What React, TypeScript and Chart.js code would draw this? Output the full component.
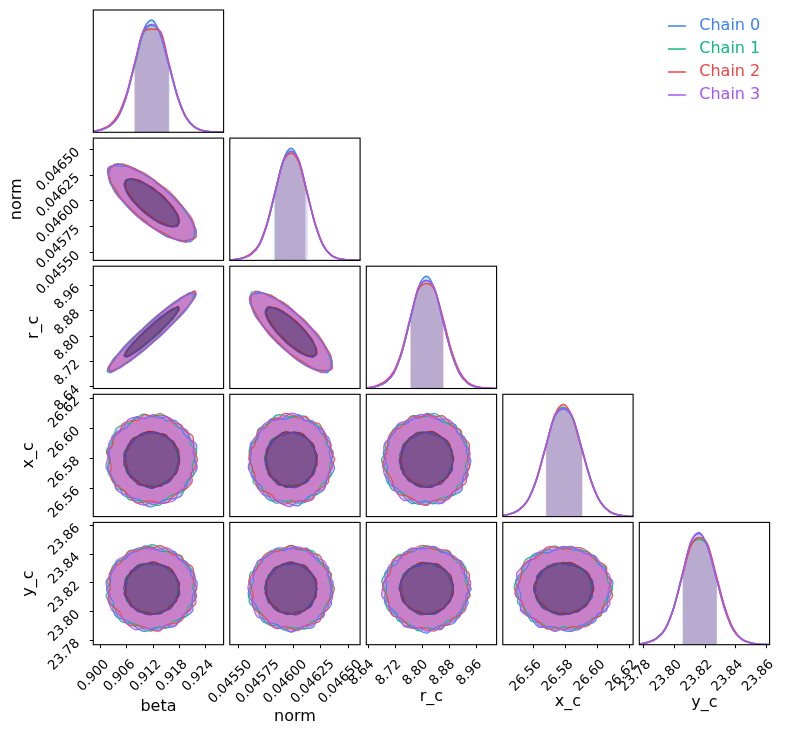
import React, { useEffect, useRef } from 'react';
import { Chart, registerables } from 'chart.js';

Chart.register(...registerables);
Chart.defaults.font.family = "'DejaVu Sans', sans-serif";

// ---------------- data ----------------
const PARAMS = ['beta', 'norm', 'r_c', 'x_c', 'y_c'];
const CHAINS = ['Chain 0', 'Chain 1', 'Chain 2', 'Chain 3'];

const AXIS_MIN = [0.8983, 0.045423, 8.634, 26.541, 23.777];
const AXIS_MAX = [0.92815, 0.046608, 9.021, 26.6225, 23.862];

const TICKS_BETA = [0.9, 0.906, 0.912, 0.918, 0.924];
const TICKS_NORM = [0.0455, 0.04575, 0.046, 0.04625, 0.0465];
const TICKS_RC = [8.64, 8.72, 8.8, 8.88, 8.96];
const TICKS_XC = [26.56, 26.58, 26.6, 26.62];
const TICKS_YC = [23.78, 23.8, 23.82, 23.84, 23.86];
const TICK_VALUES = [TICKS_BETA, TICKS_NORM, TICKS_RC, TICKS_XC, TICKS_YC];

const LABELS_BETA = ['0.900', '0.906', '0.912', '0.918', '0.924'];
const LABELS_NORM = ['0.04550', '0.04575', '0.04600', '0.04625', '0.04650'];
const LABELS_RC = ['8.64', '8.72', '8.80', '8.88', '8.96'];
const LABELS_XC = ['26.56', '26.58', '26.60', '26.62'];
const LABELS_YC = ['23.78', '23.80', '23.82', '23.84', '23.86'];
const TICK_LABELS = [LABELS_BETA, LABELS_NORM, LABELS_RC, LABELS_XC, LABELS_YC];

// posterior centre and width of every parameter (read from the marginals)
const MEANS = [0.9117, 0.04598, 8.813, 26.579, 23.816];
const SDS = [0.0039, 0.000145, 0.049, 0.0114, 0.0111];
// correlations
const CORR = [
  [1, -0.78, 0.96, 0, 0],
  [-0.78, 1, -0.82, 0, 0],
  [0.96, -0.82, 1, 0, 0],
  [0, 0, 0, 1, 0],
  [0, 0, 0, 0, 1],
];

// 1D marginal grids
const GRID_BETA = [0.8961, 0.89805, 0.9, 0.90195, 0.9039, 0.90585, 0.9078, 0.90975, 0.9117, 0.91365, 0.9156, 0.91755, 0.9195, 0.92145, 0.9234, 0.92535, 0.9273, 0.92925];
const GRID_NORM = [0.0454, 0.0454725, 0.045545, 0.0456175, 0.04569, 0.0457625, 0.045835, 0.0459075, 0.04598, 0.0460525, 0.046125, 0.0461975, 0.04627, 0.0463425, 0.046415, 0.0464875, 0.04656, 0.0466325];
const GRID_RC = [8.617, 8.6415, 8.666, 8.6905, 8.715, 8.7395, 8.764, 8.7885, 8.813, 8.8375, 8.862, 8.8865, 8.911, 8.9355, 8.96, 8.9845, 9.009, 9.0335];
const GRID_XC = [26.5334, 26.5391, 26.5448, 26.5505, 26.5562, 26.5619, 26.5676, 26.5733, 26.579, 26.5847, 26.5904, 26.5961, 26.6018, 26.6075, 26.6132, 26.6189, 26.6246, 26.6303];
const GRID_YC = [23.7716, 23.77715, 23.7827, 23.78825, 23.7938, 23.79935, 23.8049, 23.81045, 23.816, 23.82155, 23.8271, 23.83265, 23.8382, 23.84375, 23.8493, 23.85485, 23.8604, 23.86595];
const KDE_GRID = [GRID_BETA, GRID_NORM, GRID_RC, GRID_XC, GRID_YC];

// relative densities per chain (Chain 0..3)
const KDE_BETA = [
  [0.001, 0.006, 0.020, 0.052, 0.130, 0.315, 0.610, 0.905, 1.000, 0.870, 0.595, 0.320, 0.135, 0.048, 0.016, 0.004, 0.001, 0],
  [0.001, 0.007, 0.022, 0.055, 0.136, 0.322, 0.600, 0.880, 0.955, 0.880, 0.610, 0.330, 0.140, 0.050, 0.015, 0.004, 0.001, 0],
  [0.001, 0.008, 0.026, 0.062, 0.150, 0.335, 0.615, 0.895, 0.920, 0.900, 0.620, 0.325, 0.132, 0.046, 0.014, 0.004, 0.001, 0],
  [0.001, 0.007, 0.021, 0.054, 0.134, 0.318, 0.620, 0.895, 0.960, 0.885, 0.605, 0.328, 0.138, 0.049, 0.015, 0.004, 0.001, 0],
];
const KDE_NORM = [
  [0.002, 0.007, 0.021, 0.055, 0.135, 0.320, 0.600, 0.890, 1.000, 0.885, 0.610, 0.325, 0.135, 0.046, 0.014, 0.004, 0.001, 0],
  [0.002, 0.007, 0.022, 0.056, 0.138, 0.330, 0.615, 0.885, 0.975, 0.880, 0.605, 0.330, 0.140, 0.048, 0.015, 0.004, 0.001, 0],
  [0.002, 0.008, 0.025, 0.062, 0.145, 0.335, 0.610, 0.875, 0.955, 0.870, 0.600, 0.335, 0.142, 0.050, 0.016, 0.005, 0.001, 0],
  [0.002, 0.007, 0.021, 0.054, 0.136, 0.325, 0.605, 0.880, 0.970, 0.890, 0.615, 0.330, 0.138, 0.047, 0.015, 0.004, 0.001, 0],
];
const KDE_RC = [
  [0.001, 0.006, 0.020, 0.053, 0.132, 0.318, 0.605, 0.900, 1.000, 0.880, 0.595, 0.318, 0.132, 0.046, 0.014, 0.004, 0.001, 0],
  [0.001, 0.006, 0.021, 0.055, 0.136, 0.325, 0.610, 0.890, 0.965, 0.880, 0.605, 0.325, 0.136, 0.048, 0.015, 0.004, 0.001, 0],
  [0.002, 0.009, 0.028, 0.066, 0.150, 0.340, 0.625, 0.880, 0.935, 0.875, 0.625, 0.345, 0.150, 0.056, 0.018, 0.005, 0.001, 0],
  [0.001, 0.006, 0.021, 0.054, 0.134, 0.322, 0.615, 0.895, 0.960, 0.885, 0.600, 0.322, 0.134, 0.047, 0.014, 0.004, 0.001, 0],
];
const KDE_XC = [
  [0.001, 0.006, 0.020, 0.053, 0.135, 0.322, 0.610, 0.885, 0.960, 0.880, 0.610, 0.328, 0.138, 0.048, 0.015, 0.004, 0.001, 0],
  [0.001, 0.006, 0.021, 0.055, 0.138, 0.330, 0.615, 0.890, 0.975, 0.875, 0.600, 0.322, 0.134, 0.047, 0.014, 0.004, 0.001, 0],
  [0.001, 0.007, 0.022, 0.056, 0.136, 0.320, 0.605, 0.900, 1.000, 0.880, 0.598, 0.320, 0.133, 0.046, 0.014, 0.004, 0.001, 0],
  [0.001, 0.006, 0.020, 0.054, 0.135, 0.325, 0.612, 0.888, 0.965, 0.885, 0.608, 0.326, 0.136, 0.048, 0.015, 0.004, 0.001, 0],
];
const KDE_YC = [
  [0.001, 0.006, 0.021, 0.055, 0.138, 0.325, 0.612, 0.905, 0.990, 0.870, 0.600, 0.322, 0.135, 0.050, 0.018, 0.005, 0.001, 0],
  [0.001, 0.007, 0.024, 0.060, 0.142, 0.330, 0.620, 0.880, 0.940, 0.880, 0.610, 0.330, 0.140, 0.052, 0.017, 0.005, 0.001, 0],
  [0.001, 0.006, 0.022, 0.056, 0.136, 0.322, 0.600, 0.875, 0.955, 0.895, 0.625, 0.340, 0.145, 0.050, 0.016, 0.004, 0.001, 0],
  [0.001, 0.006, 0.020, 0.054, 0.135, 0.322, 0.615, 0.910, 1.000, 0.875, 0.598, 0.320, 0.133, 0.049, 0.018, 0.005, 0.001, 0],
];
const KDE = [KDE_BETA, KDE_NORM, KDE_RC, KDE_XC, KDE_YC];
const DENSITY_MAX = 1.09;

// shaded credible interval of every chain
const SHADE_LO = [
  [0.9077, 0.9078, 0.9076, 0.9079],
  [0.04583, 0.04582, 0.04583, 0.045835],
  [8.766, 8.765, 8.763, 8.766],
  [26.568, 26.5682, 26.5678, 26.5681],
  [23.8053, 23.805, 23.8055, 23.8052],
];
const SHADE_HI = [
  [0.9157, 0.9158, 0.9156, 0.9157],
  [0.04611, 0.04612, 0.04611, 0.046135],
  [8.862, 8.863, 8.865, 8.862],
  [26.5908, 26.5905, 26.591, 26.5907],
  [23.8276, 23.8279, 23.8274, 23.8277],
];

// 2D contour levels (in sigma) and per-chain offsets / roughness
const CONTOUR_SIGMA = [2.55, 1.58];
const CHAIN_OFFSET = [[0.02, -0.03], [-0.03, 0.02], [0.03, 0.03], [-0.02, -0.02]];
const CHAIN_ROUGHNESS = [
  [1.03, 0.97, 1.05, 1.0, 0.95, 1.04, 1.07, 0.98, 0.96, 1.02, 1.06, 0.97, 0.94, 1.01, 1.05, 0.97, 1.03, 1.08, 0.98, 0.95, 1.02, 1.05, 0.96, 1.01, 1.04, 0.97, 1.06, 0.99, 0.95, 1.03, 1.07, 0.98, 1.02, 0.96, 1.04, 1.0],
  [0.98, 1.04, 0.96, 1.06, 1.01, 0.97, 1.03, 1.07, 0.99, 0.95, 1.02, 1.05, 0.98, 1.04, 0.96, 1.0, 1.06, 0.97, 1.02, 1.05, 0.95, 0.99, 1.04, 1.02, 0.97, 1.05, 1.0, 0.96, 1.03, 1.07, 0.98, 1.01, 1.05, 0.97, 1.02, 1.04],
  [1.05, 1.0, 0.97, 1.02, 1.07, 0.99, 0.96, 1.03, 1.05, 0.98, 0.97, 1.04, 1.06, 0.96, 1.0, 1.05, 0.98, 1.01, 1.07, 0.99, 1.03, 0.96, 1.02, 1.06, 0.98, 1.04, 0.95, 1.01, 1.06, 0.98, 1.03, 0.97, 1.05, 1.0, 0.96, 1.03],
  [1.0, 1.06, 1.02, 0.96, 1.03, 1.05, 0.98, 1.01, 1.04, 1.07, 0.97, 0.99, 1.03, 0.95, 1.06, 1.02, 0.97, 1.04, 1.0, 1.06, 0.98, 1.03, 1.05, 0.97, 1.01, 0.96, 1.04, 1.07, 0.99, 0.97, 1.03, 1.05, 0.98, 1.02, 1.06, 0.99],
];

// ---------------- styles / layout ----------------
const CHAIN_COLORS = ['#3b82f6', '#10b981', '#ef4444', '#a855f7'];
const INNER_LINE_COLORS = ['#3d4fae', '#1d7a5c', '#a02a3c', '#6b3ea3'];
const OUTER_FILL = 'rgba(193,111,192,0.4)';
const INNER_FILL = 'rgba(117,78,137,0.4)';

const COL_LEFT = [93.3, 229.8, 366.3, 502.8, 639.3];
const ROW_TOP = [10, 138.1, 266.2, 394.3, 522.4];
const PANEL_W = 130.3;
const PANEL_H = 122.3;
const PAD = 50;
const X_TITLE_SPACE = [72.1, 81.7, 61.4, 67.0, 68.0];
const Y_TITLE_SPACE = [0, 85.8, 69.4, 74.4, 74.4];
const X_LABEL_OFFSET = [6, 11.5, 3.7, 6, 5];
const TICK_FONT = 13.3;
const TITLE_FONT = 16;

function rgba(hex: string, a: number) {
  const n = parseInt(hex.slice(1), 16);
  return `rgba(${n >> 16},${(n >> 8) & 255},${n & 255},${a})`;
}

function shadePoints(j: number, c: number) {
  const xs = KDE_GRID[j];
  const ys = KDE[j][c];
  const lo = SHADE_LO[j][c];
  const hi = SHADE_HI[j][c];
  const at = (x: number) => {
    for (let k = 0; k < xs.length - 1; k++) {
      if (x >= xs[k] && x <= xs[k + 1]) {
        const f = (x - xs[k]) / (xs[k + 1] - xs[k]);
        return ys[k] + f * (ys[k + 1] - ys[k]);
      }
    }
    return 0;
  };
  const pts = [{ x: lo, y: at(lo) }];
  xs.forEach((x, k) => {
    if (x > lo && x < hi) pts.push({ x, y: ys[k] });
  });
  pts.push({ x: hi, y: at(hi) });
  return pts;
}

function contour(i: number, j: number, level: number, c: number) {
  const rho = CORR[i][j];
  const mx = MEANS[j] + CHAIN_OFFSET[c][0] * SDS[j];
  const my = MEANS[i] + CHAIN_OFFSET[c][1] * SDS[i];
  const k = CONTOUR_SIGMA[level];
  const rough = CHAIN_ROUGHNESS[c];
  const n = rough.length;
  const amp = (Math.abs(rho) > 0.5 ? 0.4 : 1) * (level === 1 ? 0.6 : 1);
  const shift = (i * 5 + j * 3 + level * 11) % n;
  const pts: { x: number; y: number }[] = [];
  for (let a = 0; a <= n; a++) {
    const idx = a % n;
    const t = (2 * Math.PI * idx) / n;
    const r = k * (1 + (rough[(idx + shift) % n] - 1) * amp);
    const u = r * Math.cos(t);
    const v = r * Math.sin(t);
    pts.push({ x: mx + SDS[j] * u, y: my + SDS[i] * (rho * u + Math.sqrt(1 - rho * rho) * v) });
  }
  return pts;
}

function paramAxis(p: number, show: boolean, isX: boolean, space: number) {
  return {
    type: 'linear',
    min: AXIS_MIN[p],
    max: AXIS_MAX[p],
    display: show,
    afterBuildTicks: (s: any) => {
      s.ticks = TICK_VALUES[p].map((v) => ({ value: v }));
    },
    afterFit: (s: any) => {
      if (!show) return;
      if (isX) s.height = space;
      else s.width = space;
    },
    ticks: {
      autoSkip: false,
      minRotation: 45,
      maxRotation: 45,
      padding: isX ? 8.6 : 12,
      labelOffset: isX ? X_LABEL_OFFSET[p] : 1,
      color: '#000',
      font: { size: TICK_FONT },
      callback: (_v: any, idx: number) => TICK_LABELS[p][idx],
    },
    grid: { display: true, drawOnChartArea: false, drawTicks: true, tickLength: 3.5, color: '#000', lineWidth: 1 },
    border: { display: false },
    title: { display: true, text: PARAMS[p], color: '#000', font: { size: TITLE_FONT }, padding: 0 },
  };
}

const framePlugin = {
  id: 'frame',
  afterDraw(chart: any) {
    const { left, top, right, bottom } = chart.chartArea;
    const ctx = chart.ctx;
    ctx.save();
    ctx.strokeStyle = '#000';
    ctx.lineWidth = 1.1;
    ctx.strokeRect(left, top, right - left, bottom - top);
    ctx.restore();
  },
};

function buildDatasets(i: number, j: number) {
  const ds: any[] = [];
  if (i === j) {
    for (let c = 0; c < 4; c++) {
      ds.push({
        data: shadePoints(j, c),
        showLine: true,
        borderWidth: 0,
        pointRadius: 0,
        backgroundColor: rgba(CHAIN_COLORS[c], 0.2),
        fill: 'origin',
        cubicInterpolationMode: 'monotone',
        order: 30 - c,
      });
      ds.push({
        data: KDE_GRID[j].map((x, k) => ({ x, y: KDE[j][c][k] })),
        showLine: true,
        borderColor: CHAIN_COLORS[c],
        borderWidth: 1.5,
        pointRadius: 0,
        fill: false,
        cubicInterpolationMode: 'monotone',
        order: 10 - c,
      });
    }
  } else {
    for (let level = 0; level < 2; level++) {
      for (let c = 0; c < 4; c++) {
        const pts = contour(i, j, level, c);
        ds.push({
          data: pts,
          showLine: true,
          borderWidth: 0,
          pointRadius: 0,
          backgroundColor: level === 0 ? OUTER_FILL : INNER_FILL,
          fill: 'shape',
          tension: 0.35,
          order: (level === 0 ? 60 : 50) - c,
        });
        ds.push({
          data: pts,
          showLine: true,
          borderColor: level === 0 ? rgba(CHAIN_COLORS[c], 0.9) : INNER_LINE_COLORS[c],
          borderWidth: 1.2,
          pointRadius: 0,
          fill: false,
          tension: 0.35,
          order: (level === 0 ? 30 : 20) - c,
        });
      }
    }
  }
  return ds;
}

function Panel({ i, j }: { i: number; j: number }) {
  const ref = useRef<HTMLCanvasElement | null>(null);
  const hasX = i === 4;
  const hasY = j === 0 && i > 0;
  const yl = hasY ? Y_TITLE_SPACE[i] : 0;
  const xb = hasX ? X_TITLE_SPACE[j] : 0;
  const canvasLeft = Math.floor(COL_LEFT[j] - yl - PAD);
  const canvasTop = Math.floor(ROW_TOP[i] - PAD);
  const padLeft = COL_LEFT[j] - yl - canvasLeft;
  const padTop = ROW_TOP[i] - canvasTop;
  const width = Math.ceil(padLeft + yl + PANEL_W + PAD);
  const height = Math.ceil(padTop + PANEL_H + xb + PAD);
  const padRight = width - padLeft - yl - PANEL_W;
  const padBottom = height - padTop - PANEL_H - xb;

  useEffect(() => {
    if (!ref.current) return;
    const diag = i === j;
    const chart = new Chart(ref.current, {
      type: 'scatter',
      data: { datasets: buildDatasets(i, j) },
      options: {
        responsive: false,
        animation: false,
        events: [],
        layout: { padding: { left: padLeft, top: padTop, right: padRight, bottom: padBottom } },
        scales: {
          x: paramAxis(j, hasX, true, xb) as any,
          y: diag
            ? ({ type: 'linear', min: 0, max: DENSITY_MAX, display: false } as any)
            : (paramAxis(i, hasY, false, yl) as any),
        },
        plugins: { legend: { display: false }, tooltip: { enabled: false } },
      },
      plugins: [framePlugin],
    });
    return () => chart.destroy();
  }, []);

  return (
    <canvas
      ref={ref}
      width={width}
      height={height}
      style={{ position: 'absolute', left: canvasLeft, top: canvasTop, width, height }}
    />
  );
}

function Legend() {
  const ref = useRef<HTMLCanvasElement | null>(null);
  useEffect(() => {
    if (!ref.current) return;
    const icons = CHAIN_COLORS.map((col) => {
      const cv = document.createElement('canvas');
      cv.width = 23;
      cv.height = 4;
      const cx = cv.getContext('2d')!;
      cx.strokeStyle = col;
      cx.lineWidth = 1.5;
      cx.beginPath();
      cx.moveTo(0, 2);
      cx.lineTo(17.7, 2);
      cx.stroke();
      return cv;
    });
    const chart = new Chart(ref.current, {
      type: 'line',
      data: { datasets: CHAINS.map((label, c) => ({ label, data: [], borderColor: CHAIN_COLORS[c] })) },
      options: {
        responsive: false,
        animation: false,
        events: [],
        layout: { padding: { left: 11.3, top: 11 } },
        scales: { x: { display: false }, y: { display: false } },
        plugins: {
          tooltip: { enabled: false },
          legend: {
            display: true,
            position: 'left',
            align: 'start',
            maxWidth: 140,
            labels: {
              usePointStyle: true,
              pointStyleWidth: 23,
              padding: 7,
              font: { size: 16 },
              generateLabels: () =>
                CHAINS.map((text, c) => ({
                  text,
                  fillStyle: CHAIN_COLORS[c],
                  strokeStyle: CHAIN_COLORS[c],
                  fontColor: CHAIN_COLORS[c],
                  lineWidth: 0,
                  pointStyle: icons[c],
                  hidden: false,
                  datasetIndex: c,
                })) as any,
            },
          },
        },
      },
    });
    return () => chart.destroy();
  }, []);
  return (
    <canvas ref={ref} width={145} height={118} style={{ position: 'absolute', left: 650, top: 0, width: 145, height: 118 }} />
  );
}

export default function App() {
  const cells: { i: number; j: number }[] = [];
  for (let i = 0; i < 5; i++) for (let j = 0; j <= i; j++) cells.push({ i, j });
  return (
    <div style={{ position: 'fixed', left: 0, top: 0, width: 795, height: 738, overflow: 'hidden', background: '#fff' }}>
      {cells.map(({ i, j }) => (
        <Panel key={`${i}-${j}`} i={i} j={j} />
      ))}
      <Legend />
    </div>
  );
}
